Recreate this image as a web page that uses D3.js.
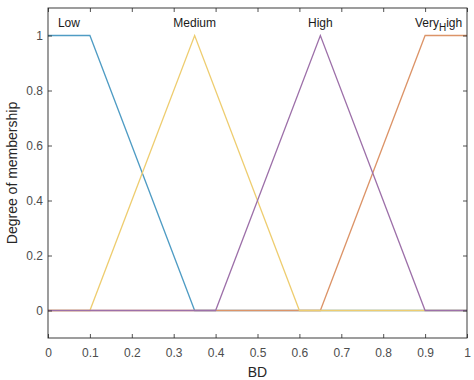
<!DOCTYPE html>
<html><head><meta charset="utf-8">
<script src="https://cdn.jsdelivr.net/npm/d3@7"></script>
<style>body{margin:0;background:#fff;} svg{display:block;}</style>
</head><body>
<svg id="c" width="474" height="380"></svg>
<script>
const xTicks = [0,0.1,0.2,0.3,0.4,0.5,0.6,0.7,0.8,0.9,1];
const xTickLabels = ["0","0.1","0.2","0.3","0.4","0.5","0.6","0.7","0.8","0.9","1"];
const yTicks = [0,0.2,0.4,0.6,0.8,1];
const yTickLabels = ["0","0.2","0.4","0.6","0.8","1"];
const lowX = [0,0.1,0.35,1];      const lowY = [1,1,0,0];
const mediumX = [0,0.1,0.35,0.6,1]; const mediumY = [0,0,1,0,0];
const highX = [0,0.4,0.65,0.9,1];   const highY = [0,0,1,0,0];
const vhighX = [0,0.65,0.9,1];    const vhighY = [0,0,1,1];
const mfNames = ["Low","Medium","High","VeryHigh"];
const labelX = [0.05,0.35,0.65,0.932];

const series = [
  {name:"Low", xs:lowX, ys:lowY, color:"#4f9cc4"},
  {name:"VeryHigh", xs:vhighX, ys:vhighY, color:"#dc9468"},
  {name:"Medium", xs:mediumX, ys:mediumY, color:"#eecd70"},
  {name:"High", xs:highX, ys:highY, color:"#9d70a9"}
];

const svg = d3.select("#c");
const L=48, R=467, T=8, B=338;
const x = d3.scaleLinear().domain([0,1]).range([L,R]);
const y = d3.scaleLinear().domain([-0.1,1.1]).range([B,T]);
const axisCol = "#262626", tickCol="#4d4d4d";
const font = "'Liberation Sans', Arial, sans-serif";

const line = d3.line().x(d=>x(d[0])).y(d=>y(d[1]));
series.forEach(s=>{
  svg.append("path").datum(s.xs.map((v,i)=>[v,s.ys[i]]))
    .attr("d",line).attr("fill","none").attr("stroke",s.color).attr("stroke-width",1.3);
});

// axes
const gB = svg.append("g").attr("transform",`translate(0,${B})`)
  .call(d3.axisBottom(x).tickValues(xTicks).tickFormat((d,i)=>xTickLabels[i]).tickSizeInner(-4).tickSizeOuter(0).tickPadding(10));
const gT = svg.append("g").attr("transform",`translate(0,${T})`)
  .call(d3.axisTop(x).tickValues(xTicks).tickFormat("").tickSizeInner(-4).tickSizeOuter(0));
const gL = svg.append("g").attr("transform",`translate(${L},0)`)
  .call(d3.axisLeft(y).tickValues(yTicks).tickFormat((d,i)=>yTickLabels[i]).tickSizeInner(-4).tickSizeOuter(0).tickPadding(5));
const gR = svg.append("g").attr("transform",`translate(${R},0)`)
  .call(d3.axisRight(y).tickValues(yTicks).tickFormat("").tickSizeInner(-4).tickSizeOuter(0));
[gB,gT,gL,gR].forEach(g=>{
  g.select(".domain").remove();
  g.selectAll(".tick line").attr("stroke",axisCol).attr("stroke-width",0.8);
  g.selectAll("text").attr("fill",tickCol).style("font-family",font).style("font-size","12px");
});
svg.append("rect").attr("x",L).attr("y",T).attr("width",R-L).attr("height",B-T)
  .attr("fill","none").attr("stroke",axisCol).attr("stroke-width",0.9);

// labels
svg.append("text").attr("x",(L+R)/2).attr("y",377).attr("text-anchor","middle")
  .attr("fill",axisCol).style("font-family",font).style("font-size","14px").text("BD");
svg.append("text").attr("transform",`translate(17,${(T+B)/2}) rotate(-90)`).attr("text-anchor","middle")
  .attr("fill",axisCol).style("font-family",font).style("font-size","14px").text("Degree of membership");

// MF names
mfNames.forEach((n,i)=>{
  const t = svg.append("text").attr("x",x(labelX[i])).attr("y",27).attr("text-anchor","middle")
    .attr("fill","#1a1a1a").style("font-family",font).style("font-size","12px");
  if(n==="VeryHigh"){
    t.append("tspan").text("Very");
    t.append("tspan").attr("dy",4).style("font-size","10px").text("H");
    t.append("tspan").attr("dy",-4).text("igh");
  } else t.text(n);
});
</script>
</body></html>
